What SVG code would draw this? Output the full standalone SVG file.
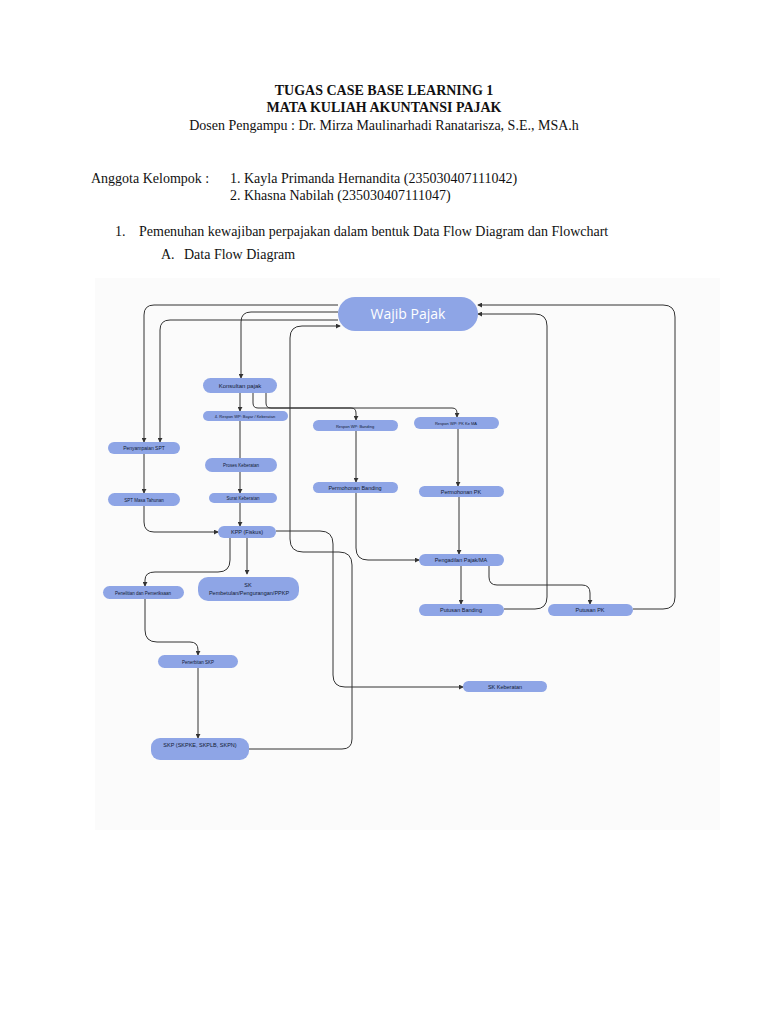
<svg xmlns="http://www.w3.org/2000/svg" width="768" height="1024" viewBox="0 0 768 1024">
<style>
.h{font-family:"Liberation Serif",serif;font-size:14px;fill:#111}
.b{font-weight:bold}
.n rect{fill:#8ea5e6}
.n text{font-family:"Liberation Sans",Arial,sans-serif;font-size:5.5px;fill:#111a33;text-anchor:middle}
.c path{fill:none;stroke:#333;stroke-width:1}
</style>
<defs><marker id="a" viewBox="0 0 6 6" refX="5" refY="3" markerWidth="5" markerHeight="5" orient="auto"><path d="M0,0L6,3L0,6z" fill="#333"/></marker></defs>
<rect width="768" height="1024" fill="#fff"/>
<text class="h b" x="384" y="95" text-anchor="middle">TUGAS CASE BASE LEARNING 1</text>
<text class="h b" x="384" y="112" text-anchor="middle">MATA KULIAH AKUNTANSI PAJAK</text>
<text class="h" x="384" y="130" text-anchor="middle">Dosen Pengampu : Dr. Mirza Maulinarhadi Ranatarisza, S.E., MSA.h</text>
<text class="h" x="91" y="183">Anggota Kelompok :</text>
<text class="h" x="230" y="183">1. Kayla Primanda Hernandita (235030407111042)</text>
<text class="h" x="230" y="200">2. Khasna Nabilah (235030407111047)</text>
<text class="h" x="115" y="236">1.</text>
<text class="h" x="139" y="236">Pemenuhan kewajiban perpajakan dalam bentuk Data Flow Diagram dan Flowchart</text>
<text class="h" x="161" y="259">A.</text>
<text class="h" x="184" y="259">Data Flow Diagram</text>
<rect x="95" y="278" width="625" height="552" fill="#fbfbfb"/>
<g class="c">
<path d="M338,305H154Q144,305 144,315V442" marker-end="url(#a)"/>
<path d="M338,312H251Q241,312 241,322V378" marker-end="url(#a)"/>
<path d="M338,320H170Q160,320 160,330V442" marker-end="url(#a)"/>
<path d="M249,749H342Q352,749 352,739V565Q352,552 339,552H303Q290,552 290,539V338Q290,326 302,326H340" marker-end="url(#a)"/>
<path d="M276,531H320Q333,531 333,544V675Q333,687 345,687H463" marker-end="url(#a)"/>
<path d="M230,538V560Q230,572 218,572H155Q145,572 145,580V586" marker-end="url(#a)"/>
<path d="M247,538V574" marker-end="url(#a)"/>
<path d="M144,506V522Q144,532 154,532H218" marker-end="url(#a)"/>
<path d="M144,454V493" marker-end="url(#a)"/>
<path d="M240,393V411" marker-end="url(#a)"/>
<path d="M240,421V458"/>
<path d="M240,472V493" marker-end="url(#a)"/>
<path d="M240,503V526" marker-end="url(#a)"/>
<path d="M253,393V403Q253,408 258,408H351Q356,408 356,413V420" marker-end="url(#a)"/>
<path d="M266,393V403Q266,408 271,408H452Q457,408 457,413V417" marker-end="url(#a)"/>
<path d="M356,431V482" marker-end="url(#a)"/>
<path d="M356,493V548Q356,560 368,560H419" marker-end="url(#a)"/>
<path d="M458,429V486" marker-end="url(#a)"/>
<path d="M459,497V554" marker-end="url(#a)"/>
<path d="M461,566V604" marker-end="url(#a)"/>
<path d="M489,566V577Q489,585 497,585H582Q590,585 590,593V604" marker-end="url(#a)"/>
<path d="M504,609H535Q547,609 547,597V326Q547,314 535,314H478" marker-end="url(#a)"/>
<path d="M633,609H663Q675,609 675,597V317Q675,305 663,305H478" marker-end="url(#a)"/>
<path d="M145,599V630Q145,642 157,642H190Q198,642 198,650V655" marker-end="url(#a)"/>
<path d="M198,668V738" marker-end="url(#a)"/>
</g>
<g id="wajib" class="n"><rect x="338" y="297" width="140" height="34" rx="17"/><text x="408" y="319" style="font-size:14px;fill:#fff;font-family:'Open Sans',sans-serif">Wajib Pajak</text></g>
<g id="konsultan" class="n"><rect x="203" y="378" width="74" height="15" rx="7.5"/><text x="240" y="387.5" style="font-size:6px">Konsultan pajak</text></g>
<g id="respon4" class="n"><rect x="203" y="411" width="85" height="10" rx="5"/><text x="245" y="418" style="font-size:4px">4. Respon WP: Bayar / Keberatan</text></g>
<g id="resbanding" class="n"><rect x="313" y="420" width="85" height="11" rx="5.5"/><text x="355" y="427.5" style="font-size:4px">Respon WP: Banding</text></g>
<g id="respk" class="n"><rect x="414" y="417" width="85" height="12" rx="6"/><text x="456" y="424.5" style="font-size:4px">Respon WP: PK Ke MA</text></g>
<g id="spt" class="n"><rect x="108" y="442" width="72" height="12" rx="6"/><text x="144" y="450" style="font-size:5px">Penyampaian SPT</text></g>
<g id="proses" class="n"><rect x="205" y="458" width="72" height="14" rx="7"/><text x="241" y="467" style="font-size:4.5px">Proses Keberatan</text></g>
<g id="sptmasa" class="n"><rect x="108" y="493" width="72" height="13" rx="6.5"/><text x="144" y="501.5" style="font-size:4.5px">SPT Masa Tahunan</text></g>
<g id="surat" class="n"><rect x="209" y="493" width="68" height="10" rx="5"/><text x="243" y="500" style="font-size:4.5px">Surat Keberatan</text></g>
<g id="pbanding" class="n"><rect x="313" y="482" width="85" height="11" rx="5.5"/><text x="355" y="489.5">Permohonan Banding</text></g>
<g id="ppk" class="n"><rect x="419" y="486" width="85" height="11" rx="5.5"/><text x="461" y="493.5">Permohonan PK</text></g>
<g id="kpp" class="n"><rect x="218" y="526" width="58" height="12" rx="6"/><text x="247" y="534">KPP (Fiskus)</text></g>
<g id="pengadilan" class="n"><rect x="419" y="554" width="85" height="12" rx="6"/><text x="461" y="562">Pengadilan Pajak/MA</text></g>
<g id="putbanding" class="n"><rect x="419" y="604" width="85" height="12" rx="6"/><text x="461" y="612">Putusan Banding</text></g>
<g id="putpk" class="n"><rect x="548" y="604" width="85" height="12" rx="6"/><text x="590" y="612">Putusan PK</text></g>
<g id="penelitian" class="n"><rect x="103" y="586" width="81" height="13" rx="6.5"/><text x="143" y="594.5" style="font-size:4.5px">Penelitian dan Pemeriksaan</text></g>
<g id="skpemb" class="n"><rect x="198" y="577" width="101" height="24" rx="10"/><text x="248" y="587">SK</text><text x="249" y="595">Pembetulan/Pengurangan/PPKP</text></g>
<g id="penerbitan" class="n"><rect x="158" y="655" width="80" height="13" rx="6.5"/><text x="198" y="663.5" style="font-size:4.5px">Penerbitan SKP</text></g>
<g id="skp" class="n"><rect x="151" y="738" width="98" height="22" rx="9"/><text x="200" y="747">SKP (SKPKE, SKPLB, SKPN)</text></g>
<g id="skkeberatan" class="n"><rect x="463" y="681" width="84" height="11" rx="5.5"/><text x="505" y="688.5">SK Keberatan</text></g>
</svg>
